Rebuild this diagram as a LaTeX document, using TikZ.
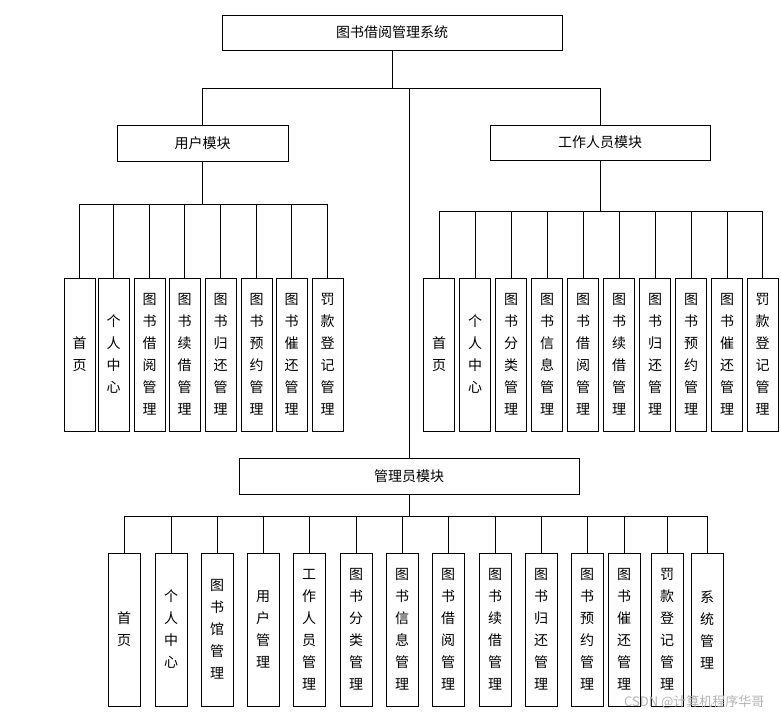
\documentclass[tikz,border=0pt]{standalone}
\usepackage{fontspec}
\setmainfont{Noto Sans CJK SC}
\begin{document}
\begin{tikzpicture}[x=1pt,y=-1pt,
  box/.style={draw,line width=0.9pt,inner sep=0pt,font=\fontsize{14}{16}\selectfont},
  leaf/.style={draw,line width=0.9pt,inner sep=0pt,minimum width=31,minimum height=153,align=center,font=\fontsize{14}{22}\selectfont},
  conn/.style={line width=0.9pt}]
\useasboundingbox (0,0) rectangle (781,721);
\node[box,minimum width=340,minimum height=35] (top) at (392,32.5) {图书借阅管理系统};
\node[box,minimum width=171,minimum height=36] (user) at (202.5,143) {用户模块};
\node[box,minimum width=220,minimum height=35] (work) at (600,142.5) {工作人员模块};
\node[box,minimum width=340,minimum height=36] (adm) at (409,476) {管理员模块};
\coordinate (hub) at (392,88);
\coordinate (ubar) at (202,204);
\coordinate (wbar) at (600,211);
\coordinate (abar) at (409,516);
% user leaves
\foreach \x/\t [count=\i] in {79.5/首\\页,113.5/个\\人\\中\\心,149.5/图\\书\\借\\阅\\管\\理,184.5/图\\书\\续\\借\\管\\理,220.5/图\\书\\归\\还\\管\\理,256.5/图\\书\\预\\约\\管\\理,291.5/图\\书\\催\\还\\管\\理,327.5/罚\\款\\登\\记\\管\\理}
  {\node[leaf] (u\i) at (\x,354.5) {\t};
   \draw[conn] (u\i.north) -- (u\i |- ubar);}
\foreach \x/\t [count=\i] in {439/首\\页,475/个\\人\\中\\心,511/图\\书\\分\\类\\管\\理,547/图\\书\\信\\息\\管\\理,583/图\\书\\借\\阅\\管\\理,619/图\\书\\续\\借\\管\\理,655/图\\书\\归\\还\\管\\理,691/图\\书\\预\\约\\管\\理,727/图\\书\\催\\还\\管\\理,762.5/罚\\款\\登\\记\\管\\理}
  {\node[leaf] (w\i) at (\x,354.5) {\t};
   \draw[conn] (w\i.north) -- (w\i |- wbar);}
\foreach \x/\t [count=\i] in {124/首\\页,171/个\\人\\中\\心,217/图\\书\\馆\\管\\理,263/用\\户\\管\\理,309/工\\作\\人\\员\\管\\理,356/图\\书\\分\\类\\管\\理,402/图\\书\\信\\息\\管\\理,448/图\\书\\借\\阅\\管\\理,495/图\\书\\续\\借\\管\\理,541/图\\书\\归\\还\\管\\理,587/图\\书\\预\\约\\管\\理,624/图\\书\\催\\还\\管\\理,667/罚\\款\\登\\记\\管\\理,707/系\\统\\管\\理}
  {\node[leaf,minimum width=32] (a\i) at (\x,629.5) {\t};
   \draw[conn] (a\i.north) -- (a\i |- abar);}
\draw[conn] (top.south) -- (hub);
\draw[conn] (user.north) -- (user.north |- hub) -- (work.north |- hub) -- (work.north);
\draw[conn] (adm.north |- hub) -- (adm.north);
\draw[conn] (user.south) -- (user.south |- ubar);
\draw[conn] (u1 |- ubar) -- (u8 |- ubar);
\draw[conn] (work.south) -- (work.south |- wbar);
\draw[conn] (w1 |- wbar) -- (w10 |- wbar);
\draw[conn] (adm.south) -- (adm.south |- abar);
\draw[conn] (a1 |- abar) -- (a14 |- abar);
\node[text=gray!60,font=\fontsize{13}{15}\selectfont,anchor=east] (wm) at (768,702) {CSDN @计算机程序华哥};
\end{tikzpicture}
\end{document}
